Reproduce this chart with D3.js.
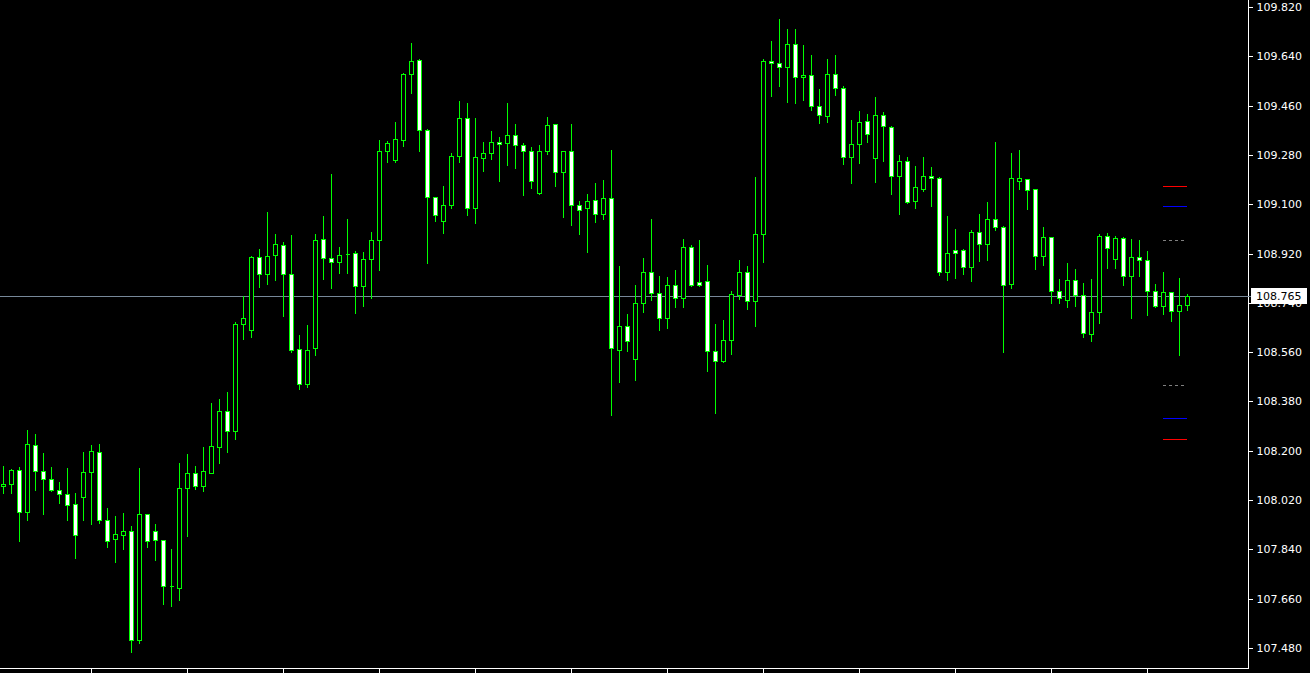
<!DOCTYPE html>
<html><head><meta charset="utf-8">
<script src="https://cdn.jsdelivr.net/npm/d3@7"></script>
<style>html,body{margin:0;padding:0;background:#000;overflow:hidden}</style>
</head><body>
<svg id="c" width="1310" height="673"></svg>
<script>
const open = [108.070,108.078,108.129,107.975,108.220,108.125,108.096,108.056,108.041,108.005,
108.030,108.122,108.195,107.946,107.877,107.892,107.906,107.508,107.968,107.906,
107.873,107.708,107.700,108.063,108.118,108.073,108.120,108.215,108.345,108.271,
108.662,108.640,108.906,108.844,108.914,108.950,108.844,108.573,108.445,108.574,
108.972,108.903,108.888,108.920,108.921,108.800,108.899,108.968,109.293,109.260,
109.333,109.574,109.625,109.370,109.125,109.038,109.096,109.277,109.414,109.085,
109.270,109.286,109.326,109.322,109.352,109.315,109.293,109.140,109.293,109.392,
109.217,109.293,109.096,109.085,109.114,109.063,109.122,108.569,108.654,108.534,
108.738,108.852,108.775,108.684,108.804,108.757,108.943,108.815,108.819,108.563,
108.527,108.603,108.768,108.852,108.746,108.990,109.622,109.615,109.600,109.684,
109.563,109.571,109.458,109.421,109.574,109.523,109.271,109.319,109.403,109.268,
109.425,109.381,109.202,109.257,109.111,109.157,109.202,109.195,108.852,108.932,
108.932,108.870,108.998,108.954,109.045,109.016,108.808,109.184,109.191,109.155,
108.910,108.979,108.782,108.749,108.822,108.768,108.625,108.706,108.983,108.899,
108.976,108.837,108.906,108.895,108.782,108.727,108.779,108.709,108.731];
const high = [108.148,108.136,108.144,108.280,108.265,108.196,108.144,108.090,108.141,108.050,
108.199,108.225,108.228,107.994,107.965,107.975,107.928,108.141,107.968,107.935,
107.873,107.845,108.159,108.192,108.148,108.218,108.378,108.393,108.418,108.673,
108.768,108.914,108.939,109.074,108.994,108.965,108.990,108.625,108.662,108.995,
109.061,109.214,108.948,109.050,108.933,108.929,109.002,109.338,109.333,109.404,
109.582,109.691,109.633,109.377,109.125,109.170,109.290,109.481,109.473,109.419,
109.331,109.370,109.348,109.473,109.397,109.326,109.313,109.320,109.422,109.392,
109.293,109.397,109.114,109.140,109.180,109.191,109.300,108.878,108.703,108.808,
108.906,109.050,108.841,108.837,108.862,108.976,108.954,108.972,108.881,108.665,
108.680,108.786,108.899,108.877,109.203,109.633,109.699,109.779,109.742,109.742,
109.684,109.647,109.523,109.633,109.647,109.534,109.410,109.443,109.432,109.494,
109.439,109.388,109.283,109.276,109.242,109.276,109.240,109.202,109.060,109.014,
108.939,109.009,109.067,109.112,109.331,109.023,109.291,109.302,109.195,109.158,
109.021,108.979,108.830,108.889,108.867,108.815,108.831,108.995,108.999,108.988,
108.983,108.976,108.973,108.932,108.811,108.856,108.779,108.834,108.775];
const low = [108.047,108.047,107.872,107.948,108.058,107.970,108.052,108.011,107.948,107.810,
107.948,107.934,107.938,107.850,107.795,107.843,107.467,107.499,107.850,107.802,
107.642,107.635,107.656,107.890,108.062,108.054,108.120,108.157,108.196,108.244,
108.609,108.617,108.799,108.810,108.825,108.693,108.562,108.427,108.434,108.550,
108.828,108.795,108.850,108.850,108.704,108.730,108.759,108.861,109.255,109.255,
109.311,109.505,109.293,108.887,109.040,108.996,109.088,109.255,109.062,109.033,
109.223,109.266,109.186,109.244,109.233,109.135,109.160,109.139,109.285,109.168,
109.055,109.025,108.993,108.927,109.036,109.047,108.330,108.452,108.565,108.460,
108.708,108.749,108.642,108.649,108.726,108.726,108.800,108.800,108.492,108.339,
108.523,108.552,108.753,108.717,108.654,108.890,109.496,109.533,109.474,109.471,
109.482,109.445,109.398,109.401,109.500,109.248,109.179,109.252,109.328,109.182,
109.259,109.139,109.066,109.106,109.087,109.149,109.095,108.843,108.825,108.832,
108.845,108.821,108.894,108.898,109.005,108.561,108.795,109.157,109.084,108.865,
108.879,108.741,108.741,108.726,108.730,108.617,108.602,108.668,108.868,108.868,
108.806,108.686,108.839,108.697,108.726,108.700,108.675,108.551,108.715];
const close = [108.078,108.129,107.975,108.224,108.125,108.096,108.056,108.041,108.001,107.892,
108.122,108.198,107.946,107.870,107.895,107.906,107.508,107.968,107.870,107.873,
107.708,107.708,108.063,108.118,108.070,108.125,108.218,108.345,108.271,108.662,
108.684,108.906,108.844,108.910,108.954,108.844,108.569,108.445,108.569,108.968,
108.903,108.888,108.914,108.920,108.800,108.899,108.968,109.293,109.322,109.337,
109.574,109.622,109.370,109.125,109.060,109.096,109.275,109.414,109.085,109.271,
109.286,109.326,109.319,109.352,109.315,109.293,109.184,109.293,109.388,109.217,
109.293,109.096,109.078,109.111,109.063,109.122,108.574,108.654,108.600,108.738,
108.852,108.775,108.684,108.804,108.757,108.943,108.804,108.804,108.563,108.527,
108.603,108.771,108.852,108.746,108.990,109.622,109.615,109.600,109.684,109.563,
109.571,109.458,109.425,109.574,109.523,109.271,109.319,109.399,109.355,109.425,
109.385,109.202,109.257,109.107,109.162,109.202,109.195,108.852,108.921,108.921,
108.872,108.998,108.954,109.045,109.016,108.804,109.195,109.195,109.151,108.910,
108.979,108.782,108.757,108.822,108.768,108.629,108.706,108.983,108.939,108.976,
108.837,108.906,108.895,108.782,108.727,108.779,108.709,108.731,108.765];
const priceTicks = [107.480,107.660,107.840,108.020,108.200,108.380,108.560,108.740,108.920,109.100,109.280,109.460,109.640,109.820];
const timeTickIndex = [11,23,35,47,59,71,83,95,107,119,131,143];
const currentPrice = 108.765;
const levelPrices = [109.167,109.094,108.970,108.440,108.320,108.243];

const levelStyle = [
  {color:"#ff0000", dash:null},
  {color:"#0000ff", dash:null},
  {color:"#808080", dash:"3,3"},
  {color:"#808080", dash:"3,3"},
  {color:"#0000ff", dash:null},
  {color:"#ff0000", dash:null}
];

const svg = d3.select("#c");
svg.append("rect").attr("width",1310).attr("height",673).attr("fill","#000");

const x = d3.scaleLinear().domain([0, open.length-1]).range([3, 3 + 8*(open.length-1)]);
const y = d3.scaleLinear().domain([107.48, 109.82]).range([648, 7]);
const snap = v => Math.round(v) + 0.5;

const data = open.map((o,i) => ({i, o, h: high[i], l: low[i], c: close[i]}));

// current price line
svg.append("line")
  .attr("x1", 0).attr("x2", 1248)
  .attr("y1", snap(y(currentPrice)) ).attr("y2", snap(y(currentPrice)))
  .attr("stroke", "#778899").attr("stroke-width", 1);

const g = svg.append("g").attr("shape-rendering","crispEdges");
g.selectAll("line.wick").data(data).join("line").attr("class","wick")
  .attr("x1", d => snap(x(d.i))).attr("x2", d => snap(x(d.i)))
  .attr("y1", d => snap(y(d.h))).attr("y2", d => snap(y(d.l)))
  .attr("stroke", "#00ff00");
g.selectAll("path.body").data(data).join("path").attr("class","body")
  .attr("d", d => {
    const cx = Math.round(x(d.i));
    const y0 = snap(y(Math.max(d.o,d.c)));
    const y1 = snap(y(Math.min(d.o,d.c)));
    return `M${cx-1.5},${y0}H${cx+2.5}V${y1}H${cx-1.5}Z`;
  })
  .attr("fill", d => d.c >= d.o ? "#000" : "#fff")
  .attr("stroke", "#00ff00");

// level markers
svg.append("g").attr("shape-rendering","crispEdges")
  .selectAll("line").data(levelPrices).join("line")
  .attr("x1", x(145)).attr("x2", x(148))
  .attr("y1", d => snap(y(d))).attr("y2", d => snap(y(d)))
  .attr("stroke", (d,i) => levelStyle[i].color)
  .attr("stroke-dasharray", (d,i) => levelStyle[i].dash);

// right axis
const yAxis = d3.axisRight(y).tickValues(priceTicks).tickFormat(d3.format(".3f"))
  .tickSize(4).tickSizeOuter(0).tickPadding(4);
const ya = svg.append("g").attr("transform","translate(1248.5,0)").call(yAxis);
ya.select(".domain").remove();
ya.selectAll("line").attr("stroke","#fff").attr("shape-rendering","crispEdges");
ya.selectAll("text").attr("fill","#fff").attr("font-family","DejaVu Sans, Verdana, sans-serif").attr("font-size","11px");

// bottom axis
const xAxis = d3.axisBottom(x).tickValues(timeTickIndex).tickFormat("").tickSize(4).tickSizeOuter(0);
const xa = svg.append("g").attr("transform","translate(0,668.5)").call(xAxis);
xa.select(".domain").remove();
xa.selectAll("line").attr("stroke","#fff").attr("shape-rendering","crispEdges");

// frame
svg.append("line").attr("x1",1248.5).attr("x2",1248.5).attr("y1",0).attr("y2",669).attr("stroke","#fff");
svg.append("line").attr("x1",0).attr("x2",1249).attr("y1",668.5).attr("y2",668.5).attr("stroke","#fff");

// current price label
const py = Math.round(y(currentPrice));
svg.append("line").attr("x1",1248).attr("x2",1252).attr("y1",py+0.5).attr("y2",py+0.5).attr("stroke","#778899");
svg.append("rect").attr("x",1251).attr("y",py-8).attr("width",56).attr("height",16).attr("fill","#fff");
svg.append("text").attr("x",1256).attr("y",py).attr("dy","0.35em")
  .attr("font-family","DejaVu Sans, Verdana, sans-serif").attr("font-size","11px").attr("fill","#000")
  .text(d3.format(".3f")(currentPrice));
</script>
</body></html>
